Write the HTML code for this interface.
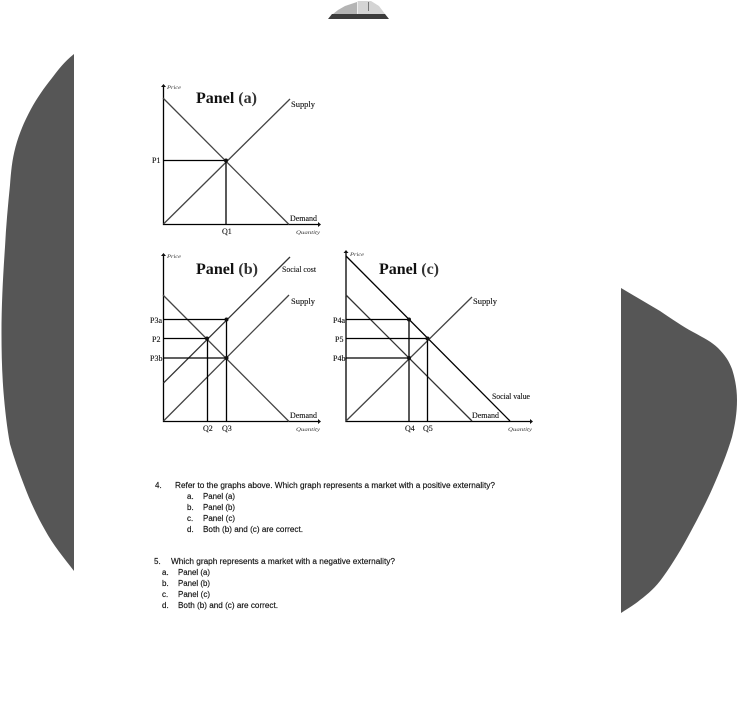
<!DOCTYPE html>
<html>
<head>
<meta charset="utf-8">
<style>
html,body{margin:0;padding:0;background:#fff;width:737px;height:704px;overflow:hidden}
svg{display:block}
.s{font-family:"Liberation Serif",serif;font-size:8px;fill:#111;stroke:#111;stroke-width:.12}
.t{font-family:"Liberation Serif",serif;font-size:15.5px;font-weight:bold;fill:#111}
.i{font-family:"Liberation Serif",serif;font-size:5.5px;font-style:italic;fill:#333}
.q{font-family:"Liberation Sans",sans-serif;font-size:8px;fill:#111;stroke:#111;stroke-width:.15}
.k{stroke:#000;stroke-width:1.3;fill:none}
.g{stroke:#444;stroke-width:1.3;fill:none}
</style>
</head>
<body>
<svg width="737" height="704" viewBox="0 0 737 704" xmlns="http://www.w3.org/2000/svg">
<rect width="737" height="704" fill="#fff"/>

<path d="M74 54 C64 62 58 70 52 78 C44 88 37 98 31 109 C24 122 19 134 15.500 147 C12 160 11 172 10 185 C8 205 6 226 5 247 C3 276 1.500 305 1.500 333 C1.500 353 2 373 3.500 392 C5 410 7 428 10 444 C14 458 19 472 24 485 C30 501 37 516 45 530 C53 545 64 558 74 571 Z" fill="#565656"/>
<path d="M621 288 L660 311 C672 319 682 326 693 332 C704 338 712 342 718 348 C725 355 729 361 732 369 C735 378 737 389 737 400 C737 413 735 425 732 437 C727 454 720 471 713 487 C706 503 698 518 690 533 C682 548 673 563 663 577 C656 587 648 594 640 600 C634 605 627 609 621 613 Z" fill="#565656"/>

<polygon points="328,19 389,19 385,14 332,14" fill="#3c3c3c"/>
<polygon points="333,14 338,10 345,6 357,2 357,14" fill="#b4b4b4"/>
<polygon points="358,1 371,1 379,6 385,14 358,14" fill="#d4d4d4"/>
<rect x="368" y="2" width="1" height="9" fill="#777"/>
<rect x="357" y="1" width="1" height="13" fill="#eee"/>

<!-- Panel a -->
<g>
<path class="k" d="M163.500 85V224.500H320"/>
<path d="M163.500 84l-2.500 3h5zM321 224.500l-3-2.500v5z" fill="#111"/>
<path class="g" d="M163 98L289 224.500"/>
<path class="g" d="M163.500 224L290 99"/>
<path class="k" d="M163.500 160.500H226V224"/>
<circle cx="226" cy="160.500" r="2" fill="#111"/>
<text class="i" x="167" y="89" textLength="14" lengthAdjust="spacingAndGlyphs">Price</text>
<text class="t" x="196" y="103" textLength="61" lengthAdjust="spacingAndGlyphs">Panel <tspan fill="#333">(a)</tspan></text>
<text class="s" x="291" y="107" textLength="24" lengthAdjust="spacingAndGlyphs">Supply</text>
<text class="s" x="152" y="163">P1</text>
<text class="s" x="290" y="221" textLength="27" lengthAdjust="spacingAndGlyphs">Demand</text>
<text class="s" x="222" y="234">Q1</text>
<text class="i" x="296" y="234" textLength="24" lengthAdjust="spacingAndGlyphs">Quantity</text>
</g>

<!-- Panel b -->
<g>
<path class="k" d="M163.500 254V421.500H320"/>
<path d="M163.500 253l-2.500 3h5zM321 421.500l-3-2.500v5z" fill="#111"/>
<path class="g" d="M163 295L289 421.500"/>
<path class="g" d="M163.500 421L289 295"/>
<path class="k" d="M163.500 383L290 257" style="stroke:#333"/>
<path class="k" d="M163.500 319.500H226.500V421M163.500 338.500H207.500V421M163.500 358H226.500"/>
<circle cx="226.500" cy="319.500" r="2" fill="#111"/>
<circle cx="207" cy="338.500" r="2" fill="#111"/>
<circle cx="226.500" cy="358" r="2" fill="#111"/>
<text class="i" x="167" y="258" textLength="14" lengthAdjust="spacingAndGlyphs">Price</text>
<text class="t" x="196" y="274" textLength="62" lengthAdjust="spacingAndGlyphs">Panel <tspan fill="#333">(b)</tspan></text>
<text class="s" x="282" y="272" textLength="34" lengthAdjust="spacingAndGlyphs">Social cost</text>
<text class="s" x="291" y="304" textLength="24" lengthAdjust="spacingAndGlyphs">Supply</text>
<text class="s" x="150" y="323">P3a</text>
<text class="s" x="152" y="342">P2</text>
<text class="s" x="150" y="361">P3b</text>
<text class="s" x="290" y="418" textLength="27" lengthAdjust="spacingAndGlyphs">Demand</text>
<text class="s" x="203" y="431">Q2</text>
<text class="s" x="222" y="431">Q3</text>
<text class="i" x="296" y="431" textLength="24" lengthAdjust="spacingAndGlyphs">Quantity</text>
</g>

<!-- Panel c -->
<g>
<path class="k" d="M346 251V421.500H532"/>
<path d="M346 250l-2.500 3h5zM533 421.500l-3-2.500v5z" fill="#111"/>
<path class="k" d="M346 256L510 421"/>
<path class="k" d="M346 295L472 421" style="stroke:#333"/>
<path class="g" d="M346 421L472 297"/>
<path class="k" d="M346 319.500H409V421M346 338.500H427.500V421M346 358H409"/>
<circle cx="409" cy="319.500" r="2" fill="#111"/>
<circle cx="427.500" cy="338.500" r="2" fill="#111"/>
<circle cx="409" cy="358" r="2" fill="#111"/>
<text class="i" x="350" y="256" textLength="14" lengthAdjust="spacingAndGlyphs">Price</text>
<text class="t" x="379" y="274" textLength="60" lengthAdjust="spacingAndGlyphs">Panel <tspan fill="#333">(c)</tspan></text>
<text class="s" x="473" y="304" textLength="24" lengthAdjust="spacingAndGlyphs">Supply</text>
<text class="s" x="333" y="323">P4a</text>
<text class="s" x="335" y="342">P5</text>
<text class="s" x="333" y="361">P4b</text>
<text class="s" x="492" y="399" textLength="38" lengthAdjust="spacingAndGlyphs">Social value</text>
<text class="s" x="472" y="418" textLength="27" lengthAdjust="spacingAndGlyphs">Demand</text>
<text class="s" x="405" y="431">Q4</text>
<text class="s" x="423" y="431">Q5</text>
<text class="i" x="508" y="431" textLength="24" lengthAdjust="spacingAndGlyphs">Quantity</text>
</g>

<!-- Questions -->
<text class="q" x="155" y="488">4.</text>
<text class="q" x="175" y="488" textLength="320" lengthAdjust="spacingAndGlyphs">Refer to the graphs above. Which graph represents a market with a positive externality?</text>
<text class="q" x="187" y="499">a.</text><text class="q" x="203" y="499" textLength="32" lengthAdjust="spacingAndGlyphs">Panel (a)</text>
<text class="q" x="187" y="510">b.</text><text class="q" x="203" y="510" textLength="32" lengthAdjust="spacingAndGlyphs">Panel (b)</text>
<text class="q" x="187" y="521">c.</text><text class="q" x="203" y="521" textLength="32" lengthAdjust="spacingAndGlyphs">Panel (c)</text>
<text class="q" x="187" y="532">d.</text><text class="q" x="203" y="532" textLength="100" lengthAdjust="spacingAndGlyphs">Both (b) and (c) are correct.</text>

<text class="q" x="154" y="564">5.</text>
<text class="q" x="171" y="564" textLength="224" lengthAdjust="spacingAndGlyphs">Which graph represents a market with a negative externality?</text>
<text class="q" x="162" y="575">a.</text><text class="q" x="178" y="575" textLength="32" lengthAdjust="spacingAndGlyphs">Panel (a)</text>
<text class="q" x="162" y="586">b.</text><text class="q" x="178" y="586" textLength="32" lengthAdjust="spacingAndGlyphs">Panel (b)</text>
<text class="q" x="162" y="597">c.</text><text class="q" x="178" y="597" textLength="32" lengthAdjust="spacingAndGlyphs">Panel (c)</text>
<text class="q" x="162" y="608">d.</text><text class="q" x="178" y="608" textLength="100" lengthAdjust="spacingAndGlyphs">Both (b) and (c) are correct.</text>
</svg>
</body>
</html>
